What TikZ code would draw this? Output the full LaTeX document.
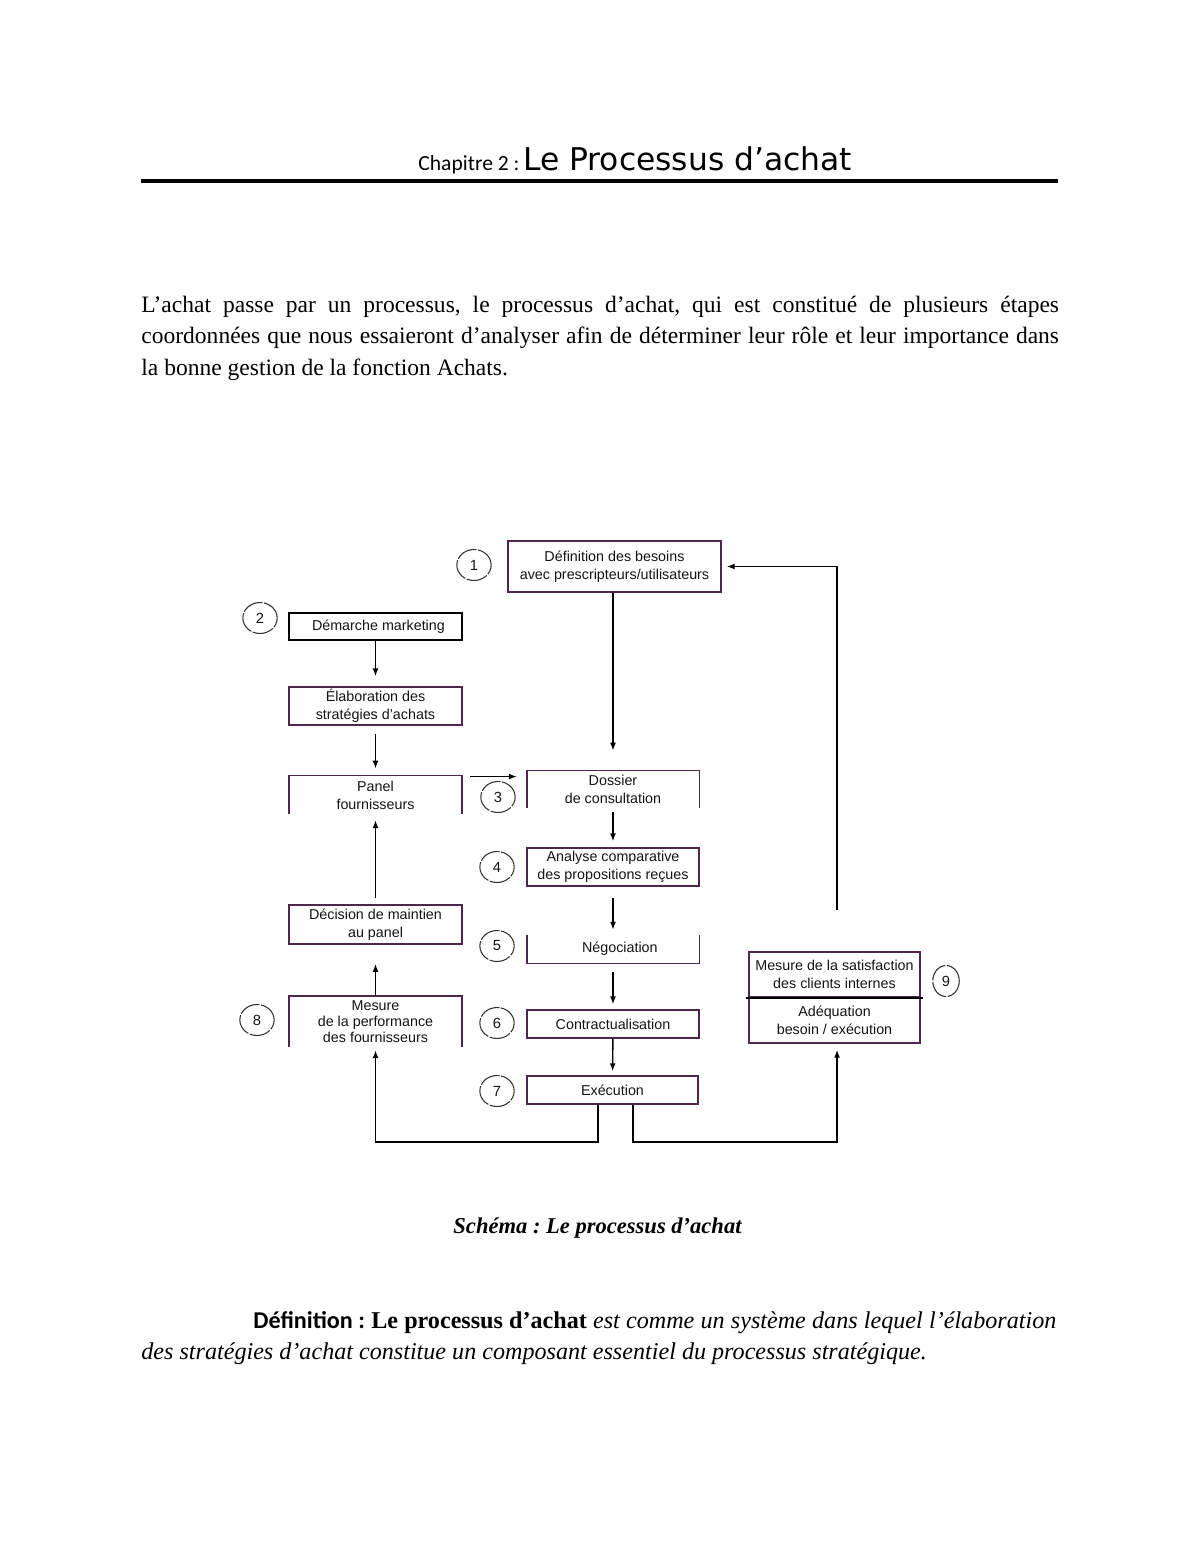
\documentclass[tikz,border=0pt]{standalone}
\usepackage{fontspec}
\setmainfont{Liberation Serif}
\newfontfamily\diagfont{Liberation Sans}
\newfontfamily\carlito{Carlito}
\newfontfamily\dejavu{DejaVu Sans}
\usetikzlibrary{arrows.meta,shapes.geometric,calc}
\definecolor{boxc}{RGB}{78,38,78}
\definecolor{txt}{RGB}{20,20,20}
\frenchspacing
\begin{document}
\begin{tikzpicture}[x=0.51pt,y=-0.51pt,
 box/.style={inner sep=0pt, align=center, font=\diagfont\fontsize{7.3}{9.2}\selectfont, text=txt},
 fullbox/.style={box, draw=boxc, line width=0.9pt},
 openbox/.style={box},
 edge/.style={boxc, line width=0.9pt},
 arr/.style={draw=black, line width=0.7pt, -{Latex[length=4pt,width=3pt]}},
 num/.style={ellipse, draw=black!80, line width=0.55pt, minimum width=17.5pt, minimum height=15.8pt, inner sep=0pt, font=\diagfont\fontsize{7.5}{9}\selectfont, text=txt, dash pattern=on 11pt off 0.8pt}]
\useasboundingbox (0,0) rectangle (1200,1553);

% header
\node[anchor=base west, inner sep=0pt] (chap) at (418,171) {\carlito\fontsize{11}{13}\selectfont Chapitre 2 :\,\dejavu\fontsize{16}{19}\selectfont Le Processus d’achat};
\coordinate (rl) at (141,181);
\coordinate (rr) at (1058,181);
\draw[line width=2.25pt] (rl) -- (rr);

% paragraph
\node[anchor=base west, inner sep=0pt] (p1) at (141,312) {\fontsize{12}{16}\selectfont\makebox[468pt][s]{L’achat passe par un processus, le processus d’achat, qui est constitué de plusieurs étapes}};
\node[anchor=base west, inner sep=0pt] (p2) at (141,343.5) {\fontsize{12}{16}\selectfont\makebox[468pt][s]{coordonnées que nous essaieront d’analyser afin de déterminer leur rôle et leur importance dans}};
\node[anchor=base west, inner sep=0pt] (p3) at (141,375) {\fontsize{12}{16}\selectfont la bonne gestion de la fonction Achats.};

% boxes
\node[fullbox, minimum width=108.6pt, minimum height=26pt] (b1) at (614.5,566.5) {Définition des besoins\\avec prescripteurs/utilisateurs};
\node[fullbox, draw=black, minimum width=88.2pt, minimum height=13.8pt] (b2) at (375.5,626.5) {\hspace*{3pt}Démarche marketing};
\node[fullbox, minimum width=88.2pt, minimum height=19.4pt] (elab) at (375.5,706) {Élaboration des\\stratégies d’achats};
\node[openbox, minimum width=88.2pt, minimum height=19.4pt] (panel) at (375.5,795) {Panel\\fournisseurs};
\node[openbox, minimum width=87.7pt, minimum height=18.9pt] (dossier) at (613,789.5) {Dossier\\de consultation};
\node[fullbox, minimum width=87.7pt, minimum height=19.4pt] (analyse) at (613,867) {Analyse comparative\\des propositions reçues};
\node[openbox, minimum width=87.7pt, minimum height=14.3pt] (nego) at (613,949) {\hspace*{7pt}Négociation};
\node[fullbox, minimum width=87.7pt, minimum height=14.3pt] (contract) at (613,1024) {Contractualisation};
\node[fullbox, minimum width=87.2pt, minimum height=14.3pt] (exec) at (612.5,1090) {Exécution};
\node[fullbox, minimum width=88.2pt, minimum height=19.9pt] (decision) at (375.5,924.5) {Décision de maintien\\au panel};
\node[openbox, minimum width=88.2pt, minimum height=26pt, font=\diagfont\fontsize{7.3}{8.2}\selectfont] (mesure) at (375.5,1021.5) {Mesure\\de la performance\\des fournisseurs};
\node[fullbox, minimum width=87.2pt, minimum height=23pt] (b9t) at (834.5,974.5) {Mesure de la satisfaction\\des clients internes};
\node[fullbox, minimum width=87.2pt, minimum height=23.5pt] (b9b) at (834.5,1020) {Adéquation\\besoin / exécution};
\draw[black, line width=0.8pt] ([xshift=-1.2pt]b9t.south west) -- ([xshift=1.2pt]b9t.south east);

% open box edges
\draw[edge] (panel.south west) -- (panel.north west) -- (panel.north east) -- (panel.south east);
\draw[edge] (dossier.south west) -- (dossier.north west) -- (dossier.north east) -- (dossier.south east);
\draw[edge] (mesure.south west) -- (mesure.north west) -- (mesure.north east) -- (mesure.south east);
\draw[edge] (nego.north west) -- (nego.south west) -- (nego.south east) -- (nego.north east);

% numbers
\node[num] (n1) at (474,565) {1};
\node[num] (n2) at (260,618) {2};
\node[num] (n3) at (498,797) {3};
\node[num] (n4) at (497,867) {4};
\node[num] (n5) at (497,946) {5};
\node[num] (n6) at (497,1023) {6};
\node[num] (n7) at (497,1091) {7};
\node[num] (n8) at (257,1020) {8};
\node[num, minimum width=13.5pt] (n9) at (946,981) {9};

% arrows
\draw[arr, shorten >=5pt] (b2) -- (elab);
\draw[arr, shorten <=4pt, shorten >=3.6pt] (elab) -- (panel);
\draw[arr, shorten >=10.2pt] (b1.south -| dossier.north) -- (dossier.north);
\draw[arr, shorten <=4pt, shorten >=5pt] ([yshift=-0.5pt]panel.north east) -- ([yshift=-0.5pt]panel.north east -| dossier.west);
\draw[arr, shorten <=2pt, shorten >=3pt] (dossier) -- (analyse);
\draw[arr, shorten <=5.6pt, shorten >=2.5pt] (analyse) -- (nego);
\draw[arr, shorten <=4.6pt, shorten >=2.5pt] (nego) -- (contract);
\draw[arr, shorten >=2pt] (contract) -- (exec);
\draw[arr, shorten <=3pt, shorten >=3pt] (decision) -- (panel);
\draw[arr, shorten >=9.7pt] (mesure) -- (decision);
\coordinate (fbL) at (480,1142);
\coordinate (fbR) at (720,1142);
\draw[arr, shorten >=1.5pt] ([xshift=-7.4pt]exec.south) |- (fbL) -| (mesure.south);
\draw[arr, shorten >=3pt] ([xshift=10.5pt]exec.south) |- (fbR) -| ([xshift=1.3pt]b9b.south);
\draw[arr, shorten <=21pt, shorten >=2.5pt] ([xshift=1.3pt]b9t.north) |- (b1.east);

% caption
\node[anchor=base, inner sep=0pt] (cap) at (597.5,1233) {\fontsize{11.5}{14}\selectfont\bfseries\itshape Schéma : Le processus d’achat};

% definition
\node[anchor=base west, inner sep=0pt] (d1) at (253,1328) {\fontsize{12.3}{15}\selectfont\makebox[409.5pt][s]{{\carlito\bfseries Définition :} {\bfseries Le processus d’achat} \itshape est comme un système dans lequel l’élaboration}};
\node[anchor=base west, inner sep=0pt] (d2) at (141,1359) {\fontsize{12.3}{15}\selectfont\itshape des stratégies d’achat constitue un composant essentiel du processus stratégique.};
\end{tikzpicture}
\end{document}
